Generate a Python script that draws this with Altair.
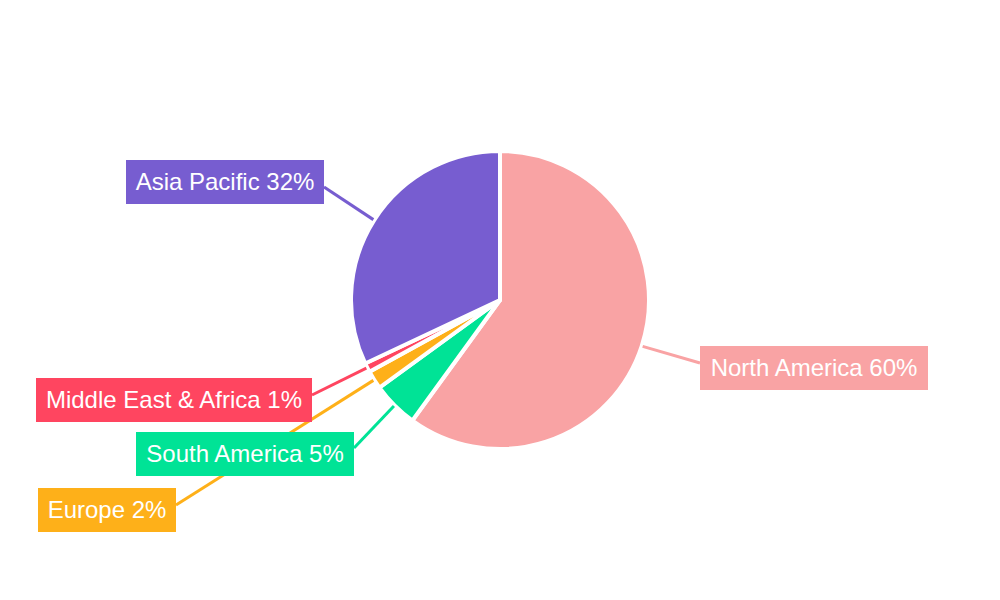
import math
import altair as alt
import pandas as pd

# ---- data ----
regions = ["North America", "South America", "Europe", "Middle East & Africa", "Asia Pacific"]
shares = [60, 5, 2, 1, 32]
colors = ["#F9A3A4", "#00E396", "#FEB019", "#FF4560", "#775DD0"]

# ---- label layout (page pixels) ----
box_left = [700, 136, 38, 36, 126]
box_right = [928, 354, 176, 312, 324]
box_top = [346, 432, 488, 378, 160]
box_bottom = [390, 476, 532, 422, 204]
line_end_x = [700, 354, 176, 312, 324]
line_end_y = [363, 448, 505, 395, 187]

CX, CY, R_OUT, R_ANCHOR = 500, 300, 149, 150

total = sum(shares)
cum = 0
anchor_x, anchor_y, labels = [], [], []
for r, s in zip(regions, shares):
    mid = (cum + s / 2) / total * 2 * math.pi
    cum += s
    anchor_x.append(CX + R_ANCHOR * math.sin(mid))
    anchor_y.append(CY - R_ANCHOR * math.cos(mid))
    labels.append(f"{r} {round(s / total * 100)}%")

df = pd.DataFrame({
    "region": regions,
    "share": shares,
    "idx": list(range(len(regions))),
    "label": labels,
    "bl": box_left, "br": box_right, "bt": box_top, "bb": box_bottom,
    "bc": [(a + b) / 2 for a, b in zip(box_left, box_right)],
    "ty": [t + 30 for t in box_top],
    "ax": anchor_x, "ay": anchor_y,
    "ex": line_end_x, "ey": line_end_y,
})

color = alt.Color("region:N", scale=alt.Scale(domain=regions, range=colors), legend=None)
xs = alt.Scale(domain=[8, 992], nice=False, zero=False)
ys = alt.Scale(domain=[592, 8], nice=False, zero=False)

base = alt.Chart(df)

pie = base.mark_arc(outerRadius=R_OUT, stroke="white", strokeWidth=4).encode(
    theta=alt.Theta("share:Q", stack=True),
    order=alt.Order("idx:Q"),
    color=color,
)

lines = base.mark_rule(strokeWidth=3).encode(
    x=alt.X("ax:Q", scale=xs, axis=None),
    y=alt.Y("ay:Q", scale=ys, axis=None),
    x2="ex:Q",
    y2="ey:Q",
    color=color,
)

boxes = base.mark_rect().encode(
    x=alt.X("bl:Q", scale=xs, axis=None),
    x2="br:Q",
    y=alt.Y("bt:Q", scale=ys, axis=None),
    y2="bb:Q",
    color=color,
)

texts = base.mark_text(
    font="Liberation Sans", fontSize=24, color="white", align="center", baseline="alphabetic"
).encode(
    x=alt.X("bc:Q", scale=xs, axis=None),
    y=alt.Y("ty:Q", scale=ys, axis=None),
    text="label:N",
)

chart = alt.layer(pie, lines, boxes, texts).properties(
    width=984, height=584, padding=0, autosize=alt.AutoSizeParams(type="none")
).configure_view(stroke=None)

chart.save("out.html", embed_options={"renderer": "svg", "actions": False})
